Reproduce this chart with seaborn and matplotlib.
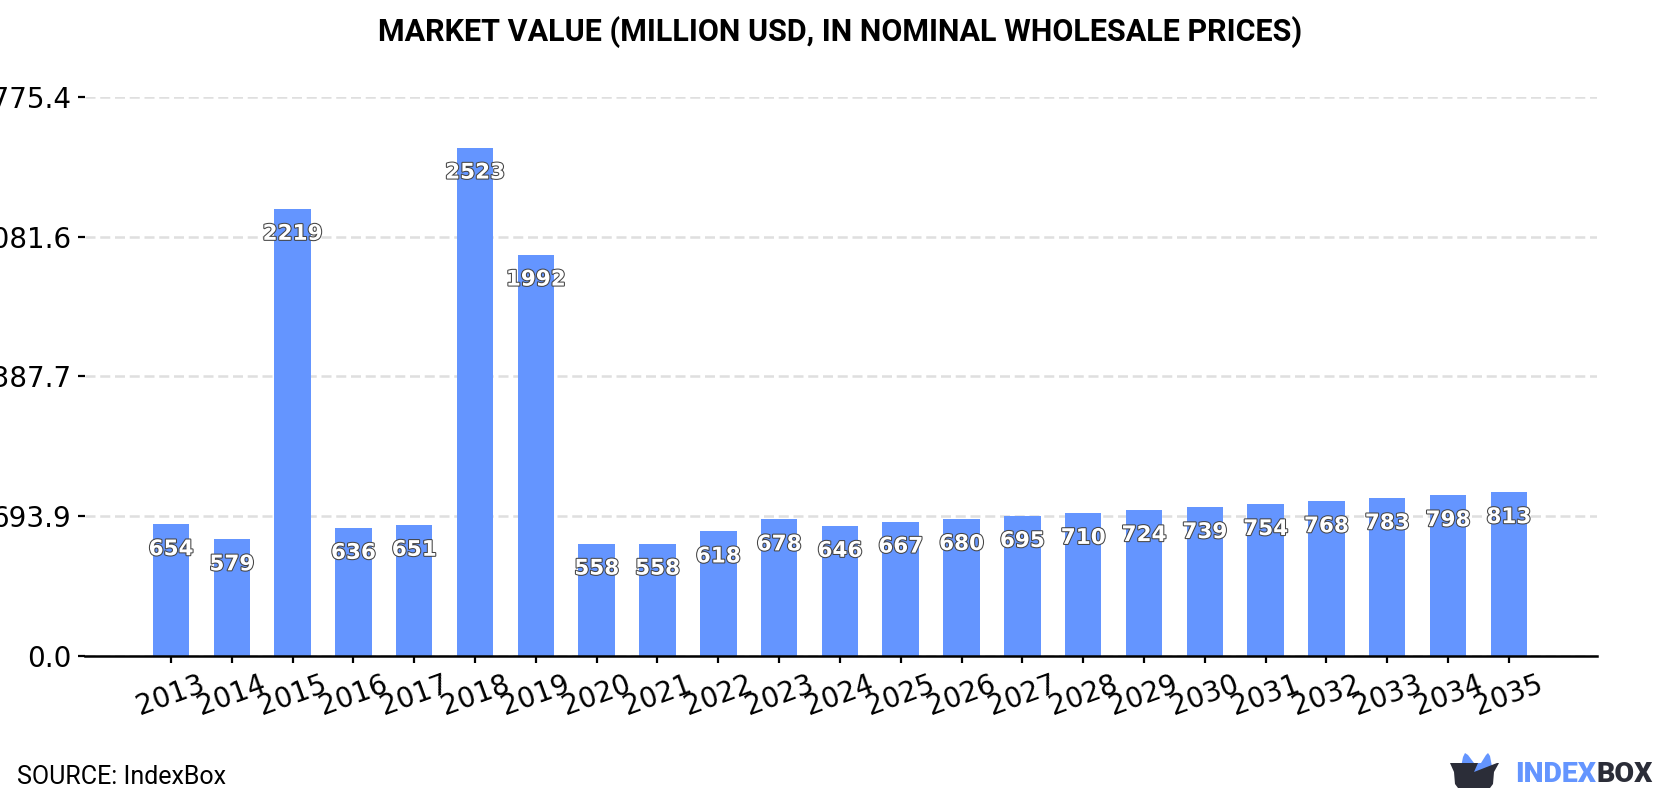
import matplotlib
matplotlib.use("Agg")
import matplotlib.pyplot as plt
from matplotlib.patches import Polygon
from matplotlib.patheffects import withStroke
import pandas as pd
import seaborn as sns

years = [str(y) for y in range(2013, 2036)]
market_value = [654, 579, 2219, 636, 651, 2523, 1992, 558, 558, 618, 678, 646,
                667, 680, 695, 710, 724, 739, 754, 768, 783, 798, 813]
y_ticks = [0.0, 693.9, 1387.7, 2081.6, 2775.4]
title_text = "MARKET VALUE (MILLION USD, IN NOMINAL WHOLESALE PRICES)"
source_text = "SOURCE: IndexBox"

BAR_BLUE = "#6495FF"
LOGO_DARK = "#2B2D38"
W, H = 1680, 800

sns.set_theme(style="white")
plt.rcParams["font.family"] = ["DejaVu Sans"]

fig = plt.figure(figsize=(W / 100, H / 100), dpi=100, facecolor="white")
ax = fig.add_axes([85 / W, 1 - 656 / H, (1597 - 85) / W, (656 - 96.7) / H])

df = pd.DataFrame({"year": years, "value": market_value})
sns.barplot(data=df, x="year", y="value", color=BAR_BLUE, saturation=1,
            width=0.6, linewidth=0, edgecolor="none", ax=ax, zorder=3)

ax.set_xlim(-1.414, 23.45)
ax.set_ylim(0, y_ticks[-1])
ax.set_xlabel("")
ax.set_ylabel("")
ax.set_yticks(y_ticks)
ax.set_yticklabels([f"{t:.1f}" for t in y_ticks])
ax.tick_params(axis="y", length=5, width=1.6, color="black", labelsize=20,
               labelcolor="black", pad=5, left=True)
ax.tick_params(axis="x", length=5, width=1.6, color="black", labelsize=20,
               labelcolor="black", pad=5, bottom=True)
for lab in ax.get_xticklabels():
    lab.set_rotation(20)
    lab.set_ha("center")

ax.yaxis.grid(True, color="#DFDFDF", linestyle=(0, (4, 1.9)), linewidth=1.8, zorder=0)
ax.xaxis.grid(False)
ax.set_axisbelow(True)
for side in ["top", "right", "left"]:
    ax.spines[side].set_visible(False)
ax.spines["bottom"].set_color("black")
ax.spines["bottom"].set_linewidth(1.8)
ax.spines["bottom"].set_zorder(5)

# Value labels sit just under each bar's top edge
for i, v in enumerate(market_value):
    ax.annotate(str(v), xy=(i, v), xytext=(0, -25), textcoords="offset pixels",
                ha="center", va="center", fontsize=15.5, fontweight="bold",
                color="white", zorder=6,
                path_effects=[withStroke(linewidth=1.5, foreground="#444444")])

fig.text(840 / W, 1 - 32 / H, title_text, ha="center", va="center",
         fontsize=22, fontweight="bold", family="Roboto", color="black")
fig.text(17 / W, 1 - 777 / H, source_text, ha="left", va="center",
         fontsize=18, family="Roboto", color="black")

# Brand mark in the lower right corner, placed in pixel units
def px(points):
    return [(x / W, 1 - y / H) for x, y in points]

ears = [(1460, 772), (1463, 757), (1465, 753), (1468, 755), (1474, 763), (1481, 763),
        (1486, 755), (1488, 753), (1490, 756), (1493, 772)]
box = [(1450, 763), (1478, 763), (1474, 772), (1497, 763), (1499, 763), (1494, 772),
       (1493, 784), (1490, 788), (1458, 788), (1455, 784), (1454, 772)]
fig.add_artist(Polygon(px(ears), closed=True, transform=fig.transFigure,
                       facecolor=BAR_BLUE, edgecolor="none"))
fig.add_artist(Polygon(px(box), closed=True, transform=fig.transFigure,
                       facecolor=LOGO_DARK, edgecolor="none"))
fig.text(1596 / W, 1 - 774 / H, "INDEX", ha="right", va="center", fontsize=20.5,
         fontweight="heavy", family="Roboto", color=BAR_BLUE)
fig.text(1597 / W, 1 - 774 / H, "BOX", ha="left", va="center", fontsize=20.5,
         fontweight="heavy", family="Roboto", color=LOGO_DARK)

fig.savefig("out.png", dpi=100, facecolor="white")
